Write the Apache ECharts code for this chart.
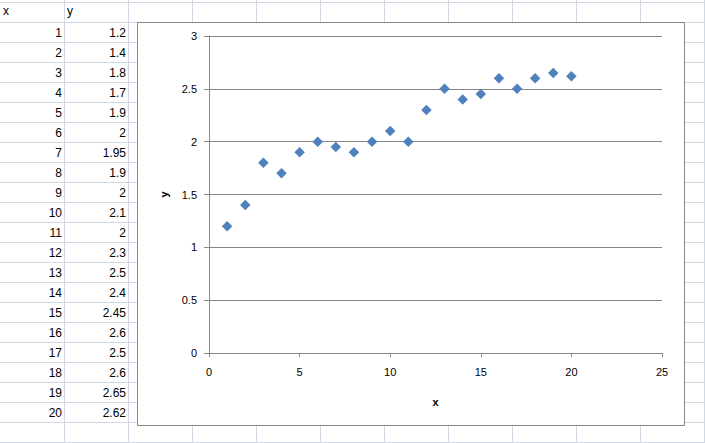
<!DOCTYPE html>
<html>
<head>
<meta charset="utf-8">
<script src="https://cdn.jsdelivr.net/npm/echarts@6/dist/echarts.min.js"></script>
<style>
html,body{margin:0;padding:0;background:#fff;}
#c{width:705px;height:443px;}
</style>
</head>
<body>
<div id="c"></div>
<script>
// ---- data ----
const colHeaders = ['x', 'y'];
const xValues = [1,2,3,4,5,6,7,8,9,10,11,12,13,14,15,16,17,18,19,20];
const yValues = [1.2,1.4,1.8,1.7,1.9,2,1.95,1.9,2,2.1,2,2.3,2.5,2.4,2.45,2.6,2.5,2.6,2.65,2.62];
const xAxisTitle = 'x';
const yAxisTitle = 'y';
const xMin = 0, xMax = 25, xStep = 5;
const yMin = 0, yMax = 3, yStep = 0.5;

// ---- styling ----
const FONT = 'Liberation Sans';
const sheetLine = '#D0D7E5';
const axisGray = '#868686';
const markerColor = '#4F81BD';

const chart = echarts.init(document.getElementById('c'), null, {renderer: 'svg'});

const graphics = [];
// spreadsheet gridlines
for (let k = 1; k <= 11; k++) {
  const x = 64 * k + 0.5;
  graphics.push({type: 'line', z: -20, silent: true,
    shape: {x1: x, y1: 0, x2: x, y2: 443},
    style: {stroke: sheetLine, lineWidth: 1}});
}
for (let k = 0; k <= 22; k++) {
  const y = 2.5 + 20 * k;
  graphics.push({type: 'line', z: -20, silent: true,
    shape: {x1: 0, y1: y, x2: 705, y2: y},
    style: {stroke: sheetLine, lineWidth: 1}});
}
// headers
graphics.push({type: 'text', z: -15, left: 3, top: 5,
  style: {text: colHeaders[0], font: '12px "' + FONT + '"', fill: '#000'}});
graphics.push({type: 'text', z: -15, left: 67, top: 5,
  style: {text: colHeaders[1], font: '12px "' + FONT + '"', fill: '#000'}});
// cells
xValues.forEach((v, i) => {
  graphics.push({type: 'text', z: -15, x: 62, y: 33 + 20 * i,
    style: {text: String(v), font: '12px "' + FONT + '"', fill: '#000',
      align: 'right', verticalAlign: 'middle'}});
  graphics.push({type: 'text', z: -15, x: 126, y: 33 + 20 * i,
    style: {text: String(yValues[i]), font: '12px "' + FONT + '"', fill: '#000',
      align: 'right', verticalAlign: 'middle'}});
});
// chart box
graphics.push({type: 'rect', z: -10, silent: true,
  shape: {x: 137.5, y: 22.5, width: 547, height: 403},
  style: {fill: '#fff', stroke: axisGray, lineWidth: 1}});

const labelStyle = {fontFamily: FONT, fontSize: 11, color: '#000'};

chart.setOption({
  animation: false,
  backgroundColor: 'transparent',
  graphic: graphics,
  grid: {left: 209, top: 36, width: 453, height: 317, containLabel: false},
  xAxis: {
    type: 'value', min: xMin, max: xMax, interval: xStep,
    name: xAxisTitle, nameLocation: 'middle', nameGap: 43,
    nameTextStyle: {fontFamily: FONT, fontSize: 11, fontWeight: 'bold', color: '#000'},
    axisLine: {show: true, onZero: false, lineStyle: {color: axisGray, width: 1}},
    axisTick: {show: true, length: 4, lineStyle: {color: axisGray}},
    axisLabel: Object.assign({margin: 13}, labelStyle),
    splitLine: {show: false}
  },
  yAxis: {
    type: 'value', min: yMin, max: yMax, interval: yStep,
    name: yAxisTitle, nameLocation: 'middle', nameGap: 40,
    nameTextStyle: {fontFamily: FONT, fontSize: 11, fontWeight: 'bold', color: '#000'},
    axisLine: {show: true, lineStyle: {color: axisGray, width: 1}},
    axisTick: {show: true, length: 5, lineStyle: {color: axisGray}},
    axisLabel: Object.assign({margin: 12}, labelStyle),
    splitLine: {show: true, lineStyle: {color: axisGray, width: 1}}
  },
  series: [{
    type: 'scatter',
    symbol: 'diamond',
    symbolSize: 10.5,
    itemStyle: {color: markerColor, opacity: 1},
    data: xValues.map((x, i) => [x, yValues[i]])
  }]
});
</script>
</body>
</html>
